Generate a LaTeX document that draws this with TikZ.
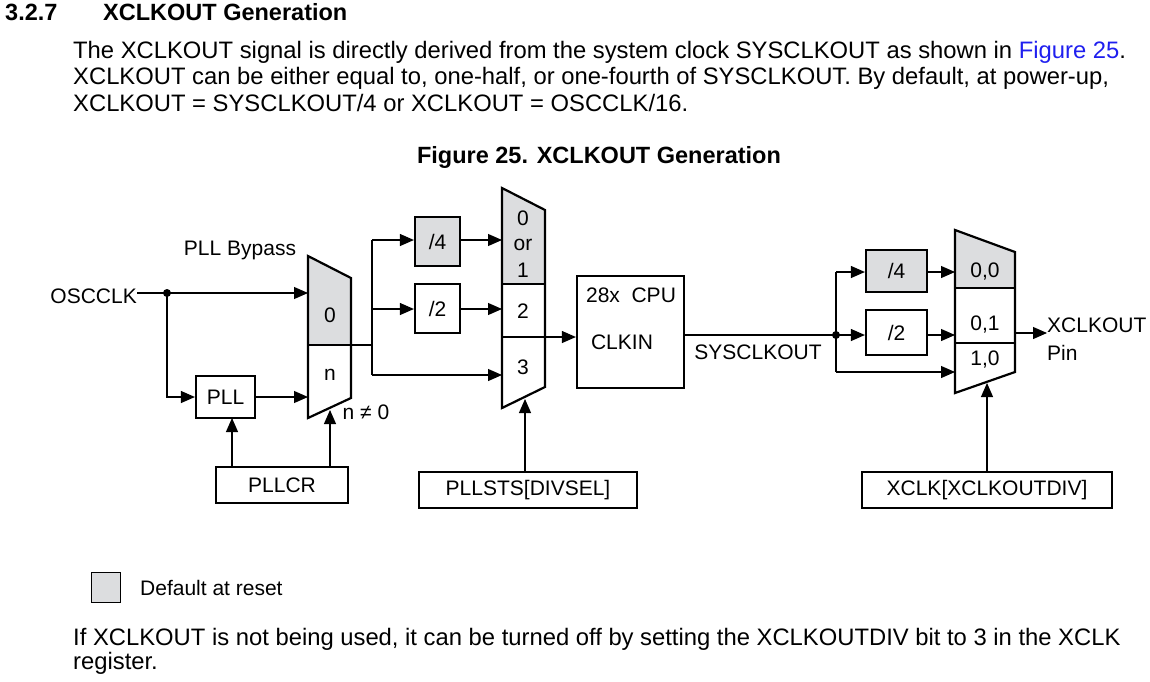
\documentclass[tikz,border=0pt]{standalone}
\usepackage{fontspec}
\setmainfont{Liberation Sans}
\usetikzlibrary{arrows.meta}
\definecolor{resetgray}{HTML}{DCDDDF}
\definecolor{linkblue}{HTML}{1F1FEF}
\begin{document}
\begin{tikzpicture}[x=1pt,y=-1pt,
  txt/.style={inner sep=0pt,anchor=west,font=\fontsize{23.8}{28}\selectfont},
  lbl/.style={inner sep=0pt,font=\fontsize{21}{25}\selectfont},
  box/.style={draw,line width=2.2pt,inner sep=0pt,font=\fontsize{21}{25}\selectfont},
  wire/.style={line width=1.1pt,-{Triangle[length=14pt,width=12pt]}},
  plain/.style={line width=1.1pt}]

\useasboundingbox (0,0) rectangle (1150,681);

%--- Heading and text ---
\node[txt,font=\fontsize{23.5}{28}\selectfont\bfseries] (secnum) at (5,12) {3.2.7};
\node[txt,font=\fontsize{23.5}{28}\selectfont\bfseries] (sectitle) at (103,12) {XCLKOUT Generation};
\node[txt] (para1) at (73,52) {The XCLKOUT signal is directly derived from the system clock SYSCLKOUT as shown in \textcolor{linkblue}{Figure 25}.};
\node[txt] (para2) at (73,78) {XCLKOUT can be either equal to, one-half, or one-fourth of SYSCLKOUT. By default, at power-up,};
\node[txt] (para3) at (73,103) {XCLKOUT = SYSCLKOUT/4 or XCLKOUT = OSCCLK/16.};
\node[inner sep=0pt,font=\fontsize{23.5}{28}\selectfont\bfseries] (figtitle) at (599,157) {Figure 25. XCLKOUT Generation};

%--- PLL bypass mux ---
\fill[resetgray] (308,256) -- (351,278) -- (351,345) -- (308,345) -- cycle;
\draw[line width=2.2pt] (308,256) -- (351,278) -- (351,398) -- (308,418) -- cycle;
\draw[plain] (308,345) -- (351,345);
\node[lbl] at (330,315) {0};
\node[lbl] at (330,375) {n};
\node[lbl] (bypass) at (240,250) {PLL Bypass};

\node[lbl,anchor=east] (osc) at (137,296) {OSCCLK};
\coordinate (split) at (167,293);
\fill (split) circle (4pt);
\node[box,minimum width=59pt,minimum height=42pt] (pll) at (225.5,397) {PLL};
\node[box,minimum width=132pt,minimum height=36pt] (pllcr) at (282,485) {PLLCR};
\node[lbl] (neq) at (366,412) {n ≠ 0};

\draw[plain] (osc.east |- split) -- (split);
\draw[wire] (split) -- (308,293);
\draw[wire] (split) |- (pll.west);
\draw[wire] (pll.east) -- (308,397);
\draw[wire] (pllcr.north -| 232,0) -- (232,418);
\draw[wire] (pllcr.north -| 330,0) -- (330,410);

%--- Divider branch ---
\node[box,fill=resetgray,minimum width=45pt,minimum height=49pt] (divA) at (437.5,241.5) {/4};
\node[box,minimum width=45pt,minimum height=49pt] (divB) at (437.5,308.5) {/2};
\draw[plain] (351,345) -- (372,345);
\draw[plain] (372,240) -- (372,375);
\draw[wire] (372,240) -- (divA.west |- 0,240);
\draw[wire] (372,309) -- (divB.west |- 0,309);
\draw[wire] (372,375) -- (502,375);

%--- DIVSEL mux ---
\fill[resetgray] (502,188) -- (545,210) -- (545,284) -- (502,284) -- cycle;
\draw[line width=2.2pt] (502,188) -- (545,210) -- (545,387) -- (502,408) -- cycle;
\draw[plain] (502,284) -- (545,284);
\draw[plain] (502,337) -- (545,337);
\node[lbl] at (523,218) {0};
\node[lbl] at (523,245) {or};
\node[lbl] at (523,270) {1};
\node[lbl] at (523,311) {2};
\node[lbl] at (523,367) {3};
\draw[wire] (divA.east |- 0,240) -- (502,240);
\draw[wire] (divB.east |- 0,309) -- (502,309);

\node[box,minimum width=107pt,minimum height=112pt] (cpu) at (630.5,332) {};
\node[lbl] (cpulbl) at (631,295) {28x\ \ CPU};
\node[lbl] (clkin) at (622,342) {CLKIN};
\draw[wire] (545,337) -- (cpu.west |- 0,337);

\node[box,minimum width=218pt,minimum height=36pt] (divsel) at (528,490) {PLLSTS[DIVSEL]};
\draw[wire] (divsel.north -| 525,0) -- (525,399);

%--- XCLKOUT mux ---
\coordinate (sysdot) at (836,335);
\draw[plain] (cpu.east |- sysdot) -- (sysdot);
\fill (sysdot) circle (4pt);
\node[lbl] (syslbl) at (758,352) {SYSCLKOUT};
\node[box,fill=resetgray,minimum width=61pt,minimum height=42pt] (divC) at (896.5,271) {/4};
\node[box,minimum width=61pt,minimum height=45pt] (divD) at (896.5,332.5) {/2};
\draw[plain] (836,272) -- (836,372);
\draw[wire] (836,272) -- (divC.west |- 0,272);
\draw[wire] (sysdot) -- (divD.west |- sysdot);
\draw[wire] (836,372) -- (955,372);

\fill[resetgray] (955,230) -- (1015,252) -- (1015,288) -- (955,288) -- cycle;
\draw[line width=2.2pt] (955,230) -- (1015,252) -- (1015,372) -- (955,393) -- cycle;
\draw[line width=2.2pt] (955,288) -- (1015,288);
\draw[plain] (955,343) -- (1015,343);
\node[lbl] at (985,272) {0,0};
\node[lbl] at (985,325) {0,1};
\node[lbl] at (985,360) {1,0};
\draw[wire] (divC.east |- 0,272) -- (955,272);
\draw[wire] (divD.east |- sysdot) -- (955,335);

\node[lbl,anchor=west] (xout) at (1047,325) {XCLKOUT};
\node[lbl,anchor=west] (pin) at (1047,353) {Pin};
\draw[wire] (1015,333) -- (xout.west |- 0,333);

\node[box,minimum width=250pt,minimum height=36pt] (xclk) at (987,490) {XCLK[XCLKOUTDIV]};
\draw[wire] (xclk.north) -- (987,383);

%--- Legend and note ---
\node[draw,line width=1pt,fill=resetgray,minimum width=29pt,minimum height=30pt,inner sep=0pt] (key) at (105.5,587) {};
\node[lbl,anchor=west] (keylbl) at (140,588) {Default at reset};
\node[txt] (note1) at (73,639) {If XCLKOUT is not being used, it can be turned off by setting the XCLKOUTDIV bit to 3 in the XCLK};
\node[txt] (note2) at (73,663) {register.};
\end{tikzpicture}
\end{document}
